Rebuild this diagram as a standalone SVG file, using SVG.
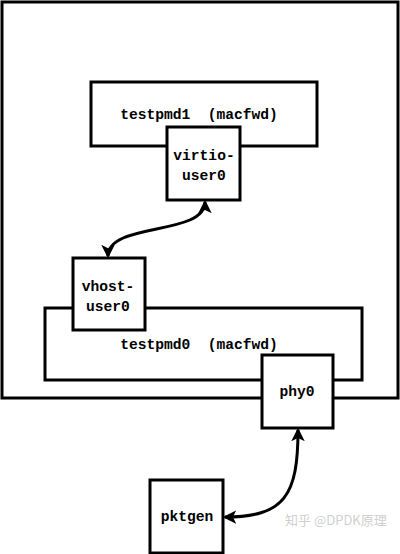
<svg xmlns="http://www.w3.org/2000/svg" width="400" height="554" viewBox="0 0 400 554">
<style>
.box{fill:#fff;stroke:#000;stroke-width:3}
.t{font-family:"Liberation Mono","DejaVu Sans Mono",monospace;font-weight:bold;font-size:14.6px;fill:#000;text-anchor:middle;white-space:pre}
.c{fill:none;stroke:#000;stroke-width:3}
.wm{font-family:"Noto Sans CJK SC","Liberation Sans",sans-serif;font-size:13px;fill:#cfcfcf}
</style>
<defs>
<marker id="ah" viewBox="0 0 12 12" refX="10" refY="6" markerWidth="4.5" markerHeight="4.5" orient="auto-start-reverse" markerUnits="strokeWidth">
<path d="M0,0 L12,6 L0,12 L3,6 Z" fill="#000"/>
</marker>
</defs>
<rect x="0" y="0" width="400" height="554" fill="#fff"/>
<g id="host"><rect class="box" x="2" y="2" width="396" height="396"/></g>
<g id="testpmd1"><rect class="box" x="91" y="82" width="226" height="64"/><text class="t" x="199" y="119" xml:space="preserve">testpmd1  (macfwd)</text></g>
<g id="virtio-user0"><rect class="box" x="167" y="127" width="73" height="73"/><text class="t" x="204" y="160">virtio-</text><text class="t" x="204" y="180">user0</text></g>
<g id="testpmd0"><rect class="box" x="45" y="308" width="317" height="72"/><text class="t" x="199" y="349" xml:space="preserve">testpmd0  (macfwd)</text></g>
<g id="vhost-user0"><rect class="box" x="73" y="258" width="72" height="72"/><text class="t" x="108" y="291">vhost-</text><text class="t" x="108" y="311">user0</text></g>
<g id="phy0"><rect class="box" x="262" y="355" width="71" height="73"/><text class="t" x="297" y="396">phy0</text></g>
<g id="pktgen"><rect class="box" x="150" y="480" width="73" height="73"/><text class="t" x="187" y="521">pktgen</text></g>
<g id="connectors">
<path class="c" d="M205,202 C205,236 108,222 108,256" marker-start="url(#ah)" marker-end="url(#ah)"/>
<path class="c" d="M298,430 C298,495 285,517 225,517" marker-start="url(#ah)" marker-end="url(#ah)"/>
</g>
<text class="wm" x="285" y="525">知乎 @DPDK原理</text>
</svg>
